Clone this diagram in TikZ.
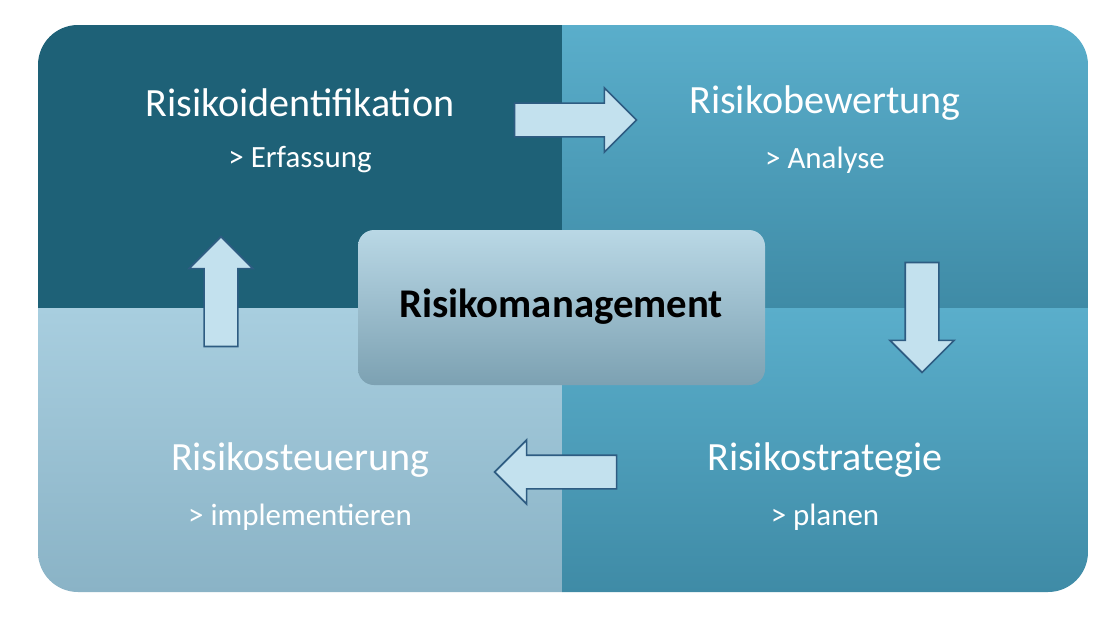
\documentclass[tikz,border=0pt]{standalone}
\usepackage{fontspec}
\setmainfont{Carlito}
\usetikzlibrary{shapes.arrows}
\definecolor{darkq}{HTML}{1E6177}
\definecolor{midq}{HTML}{5AAECB}
\definecolor{midqd}{HTML}{3F8BA6}
\definecolor{lightq}{HTML}{A8CEDF}
\definecolor{lightqd}{HTML}{8AB3C6}
\definecolor{arrfill}{HTML}{C3E1EE}
\definecolor{arredge}{HTML}{2E5C82}
\tikzset{
  title/.style={text=white, font=\fontsize{28.5}{33}\selectfont},
  sub/.style={text=white, font=\fontsize{22}{26}\selectfont},
  flow/.style={single arrow, draw=arredge, line width=1.2pt, fill=arrfill,
    minimum height=3.05cm, single arrow head extend=0.38cm, inner sep=0.4cm}
}
\begin{document}
\begin{tikzpicture}[x=0.025cm,y=-0.025cm]
  \useasboundingbox (0,0) rectangle (1100,618);
  \fill[white] (0,0) rectangle (1100,618);
  \begin{scope}
    \clip[rounded corners=1cm] (38,25) rectangle (1088,592);
    \fill[darkq] (38,25) rectangle (562,308);
    \shade[top color=midq, bottom color=midqd] (562,25) rectangle (1088,308);
    \shade[top color=lightq, bottom color=lightqd] (38,308) rectangle (562,592);
    \shade[top color=midq, bottom color=midqd] (562,308) rectangle (1088,592);
  \end{scope}
  \shade[rounded corners=0.4cm, top color=lightq!80!white, bottom color=lightqd!90!black]
    (358,230) rectangle (765,385);
  \node[font=\bfseries\fontsize{29}{34}\selectfont] (CORE) at (561,307) {Risikomanagement};
  \node[title] (IDENT) at (300,103) {Risikoidentifikation};
  \node[sub] (IDENTS) at (300,160) {> Erfassung};
  \node[title] (BEW) at (825,103) {Risikobewertung};
  \node[sub] (BEWS) at (825,160) {> Analyse};
  \node[title] (STRAT) at (825,460) {Risikostrategie};
  \node[sub] (STRATS) at (825,517) {> planen};
  \node[title] (STEU) at (300,460) {Risikosteuerung};
  \node[sub] (STEUS) at (300,517) {> implementieren};
  \node[flow] (A1) at (567,120) {};
  \node[flow, minimum height=2.75cm, shape border rotate=270] (A2) at (922,309) {};
  \node[flow, shape border rotate=180] (A3) at (564,472) {};
  \node[flow, minimum height=2.75cm, shape border rotate=90] (A4) at (221,300) {};
\end{tikzpicture}
\end{document}
